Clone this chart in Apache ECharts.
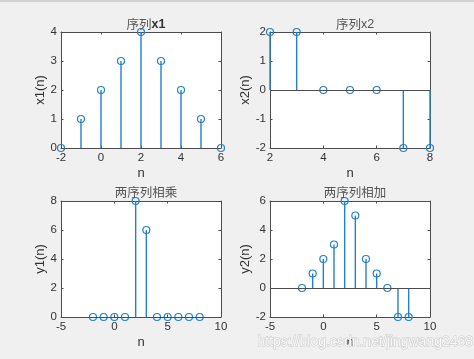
<!DOCTYPE html>
<html><head><meta charset="utf-8">
<script src="https://cdn.jsdelivr.net/npm/echarts@6/dist/echarts.min.js"></script>
<style>html,body{margin:0;padding:0;background:#f0f0f0;}#c{width:474px;height:359px;}</style>
</head><body><div id="c"></div>
<script>
// ---- data ----
const x1n = [-2, -1, 0, 1, 2, 3, 4, 5, 6];
const x1v = [0, 1, 2, 3, 4, 3, 2, 1, 0];
const x2n = [2, 3, 4, 5, 6, 7, 8];
const x2v = [2, 2, 0, 0, 0, -2, -2];
const yn  = [-2, -1, 0, 1, 2, 3, 4, 5, 6, 7, 8];
const y1v = [0, 0, 0, 0, 8, 6, 0, 0, 0, 0, 0];
const y2v = [0, 1, 2, 3, 6, 5, 2, 1, 0, -2, -2];
const titles = ['序列x1', '序列x2', '两序列相乘', '两序列相加'];
const yNames = ['x1(n)', 'x2(n)', 'y1(n)', 'y2(n)'];
const xName = 'n';
// axis ranges [min, max, interval]
const xRanges = [[-2, 6, 2], [2, 8, 2], [-5, 10, 5], [-5, 10, 5]];
const yRanges = [[0, 4, 1], [-2, 2, 1], [0, 8, 2], [-2, 6, 2]];
const watermark = 'https://blog.csdn.net/jingwang2468';

const panels = [[x1n, x1v], [x2n, x2v], [yn, y1v], [yn, y2v]];
const grids = [
  {left: 61, top: 32, width: 160, height: 116},
  {left: 270, top: 32, width: 160, height: 116},
  {left: 61, top: 201, width: 160, height: 116},
  {left: 270, top: 201, width: 160, height: 116}
];
const yNameGaps = [13, 17, 13, 17];
const titlePos = [[141, 13], [350, 13], [141, 181], [350, 181]];
const titleBold = [true, false, false, false];

const blue = '#2381c6';
const axisCol = '#4d4d4d';
const txtCol = '#333';
const font = 'Liberation Sans, Arial, sans-serif';

const xAxes = [], yAxes = [], series = [], titleArr = [];
panels.forEach((p, i) => {
  const xr = xRanges[i], yr = yRanges[i];
  const common = {type: 'value', splitLine: {show: false},
    axisLine: {show: true, onZero: false, lineStyle: {color: axisCol, width: 1}},
    axisTick: {show: true, inside: true, length: 2.5, lineStyle: {color: axisCol}}};
  xAxes.push(Object.assign({}, common, {gridIndex: i, position: 'bottom', min: xr[0], max: xr[1], interval: xr[2],
    name: xName, nameLocation: 'middle', nameGap: 19,
    nameTextStyle: {fontSize: 13, color: txtCol, fontFamily: font},
    axisLabel: {margin: 4, fontSize: 11.5, color: txtCol, fontFamily: font}}));
  xAxes.push(Object.assign({}, common, {gridIndex: i, position: 'top', min: xr[0], max: xr[1], interval: xr[2],
    axisLabel: {show: false}}));
  yAxes.push(Object.assign({}, common, {gridIndex: i, position: 'left', min: yr[0], max: yr[1], interval: yr[2],
    name: yNames[i], nameLocation: 'middle', nameGap: yNameGaps[i], nameRotate: 90,
    nameTextStyle: {fontSize: 13, color: txtCol, fontFamily: font},
    axisLabel: {margin: 4, fontSize: 11.5, color: txtCol, fontFamily: font}}));
  yAxes.push(Object.assign({}, common, {gridIndex: i, position: 'right', min: yr[0], max: yr[1], interval: yr[2],
    axisLabel: {show: false}}));
  const m = titles[i].match(/^([^a-z0-9]*)(.*)$/);
  titleArr.push({
    text: m[2] ? '{a|' + m[1] + '}{b|' + m[2] + '}' : '{a|' + m[1] + '}',
    left: titlePos[i][0], top: titlePos[i][1], textAlign: 'center',
    textStyle: {fontWeight: 'normal', rich: {
      a: {fontSize: 12.5, color: '#555', fontWeight: 'normal', fontFamily: 'Noto Sans CJK SC'},
      b: {fontSize: 12.5, color: titleBold[i] ? '#333' : '#555', fontWeight: titleBold[i] ? 'bold' : 'normal', fontFamily: font}
    }}
  });
  series.push({
    type: 'custom', xAxisIndex: 2 * i, yAxisIndex: 2 * i, clip: false, z: 3,
    data: p[0].map((n, k) => [n, p[1][k]]),
    renderItem: function (params, api) {
      const x = api.value(0), y = api.value(1);
      const p0 = api.coord([x, 0]), p1 = api.coord([x, y]);
      return {type: 'group', children: [
        {type: 'line', shape: {x1: p0[0], y1: p0[1], x2: p1[0], y2: p1[1]}, style: {stroke: blue, lineWidth: 1.4}},
        {type: 'circle', shape: {cx: p1[0], cy: p1[1], r: 3.5}, style: {fill: 'none', stroke: blue, lineWidth: 1.2}}
      ]};
    },
    markLine: {silent: true, symbol: 'none', animation: false, label: {show: false},
      lineStyle: {color: axisCol, type: 'solid', width: 1.2},
      data: [{yAxis: 0}]}
  });
});

const chart = echarts.init(document.getElementById('c'), null, {renderer: 'canvas'});
chart.setOption({
  backgroundColor: '#f0f0f0',
  animation: false,
  title: titleArr,
  grid: grids.map(g => Object.assign({show: true, backgroundColor: '#fff', borderWidth: 0}, g)),
  xAxis: xAxes,
  yAxis: yAxes,
  series: series,
  graphic: [
    {type: 'rect', left: 0, top: 0, shape: {width: 474, height: 2}, style: {fill: '#d2d2d2'}, z: 100},
    {type: 'text', left: 257, top: 335, z: 1,
      style: {text: watermark, fontSize: 14, fontFamily: font, fill: 'rgba(255,255,255,0.85)', stroke: 'rgba(190,190,190,0.8)', lineWidth: 1}}
  ]
});
</script></body></html>
